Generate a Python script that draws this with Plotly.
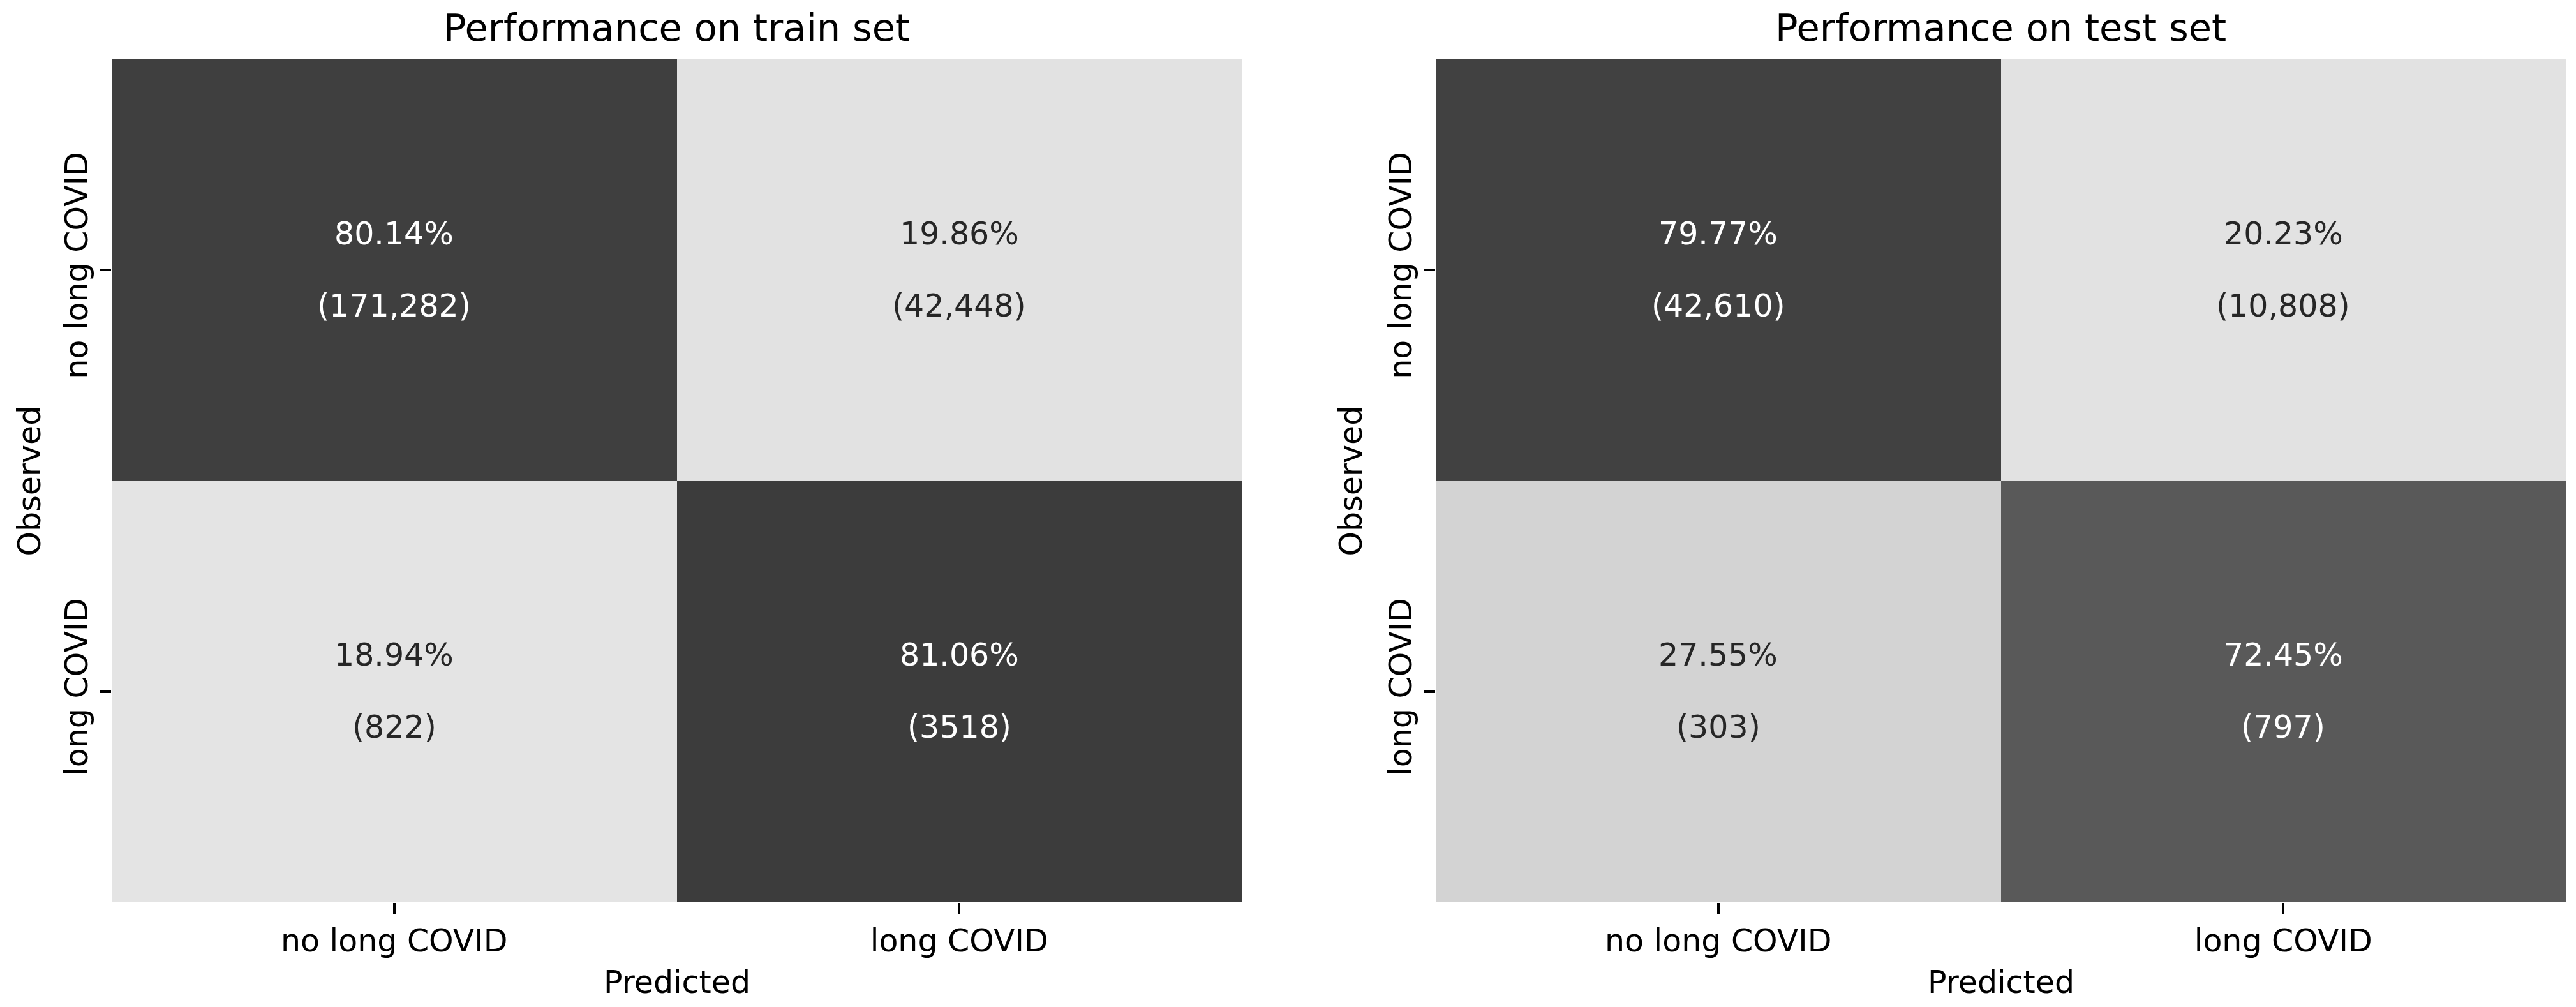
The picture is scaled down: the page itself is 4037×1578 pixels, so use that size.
import plotly.graph_objects as go

# ---- data ----
pred_labels = ["no long COVID", "long COVID"]
obs_labels = ["no long COVID", "long COVID"]

train_pct = [[80.14, 19.86],
             [18.94, 81.06]]
train_cnt = [["171,282", "42,448"],
             ["822", "3518"]]

test_pct = [[79.77, 20.23],
            [27.55, 72.45]]
test_cnt = [["42,610", "10,808"],
            ["303", "797"]]

titles = ["Performance on train set", "Performance on test set"]

# ColorBrewer Greys (matplotlib "Greys"), mapped on 0..100 %
greys = [[0.0, "#ffffff"], [0.125, "#f0f0f0"], [0.25, "#d9d9d9"],
         [0.375, "#bdbdbd"], [0.5, "#969696"], [0.625, "#737373"],
         [0.75, "#525252"], [0.875, "#252525"], [1.0, "#000000"]]

W, H = 4037, 1578
OFF = 8  # page body margin in the browser
FONT = "DejaVu Sans"
TICK_SIZE = 49
TITLE_SIZE = 59


def px_x(s):
    return (s - OFF) / W


def px_y(s):
    return 1 - (s - OFF) / H


# screen-pixel layout of the two panels
panels = [(175, 1946), (2250, 4021)]
top_px, bot_px = 93, 1414

fig = go.Figure()
annotations = []

for i, (pct, cnt, title) in enumerate([(train_pct, train_cnt, titles[0]),
                                        (test_pct, test_cnt, titles[1])]):
    xa = "x" if i == 0 else "x2"
    ya = "y" if i == 0 else "y2"
    fig.add_trace(go.Heatmap(
        z=pct, x=pred_labels, y=obs_labels,
        colorscale=greys, zmin=0, zmax=100, showscale=False,
        xaxis=xa, yaxis=ya, hoverinfo="skip",
    ))
    for r, ob in enumerate(obs_labels):
        for c, pr in enumerate(pred_labels):
            col = "#ffffff" if pct[r][c] > 50 else "#262626"
            annotations.append(dict(
                x=pr, y=ob, xref=xa, yref=ya, text=f"{pct[r][c]:.2f}%",
                showarrow=False, yshift=57, yanchor="middle",
                font=dict(family=FONT, size=TICK_SIZE, color=col)))
            annotations.append(dict(
                x=pr, y=ob, xref=xa, yref=ya, text=f"({cnt[r][c]})",
                showarrow=False, yshift=-56, yanchor="middle",
                font=dict(family=FONT, size=TICK_SIZE, color=col)))
    x0, x1 = panels[i]
    xc = px_x((x0 + x1) / 2)
    annotations.append(dict(
        x=xc, y=px_y(44), xref="paper", yref="paper", text=title,
        showarrow=False, xanchor="center", yanchor="middle",
        font=dict(family=FONT, size=TITLE_SIZE, color="#000000")))
    annotations.append(dict(
        x=xc, y=px_y(1539), xref="paper", yref="paper", text="Predicted",
        showarrow=False, xanchor="center", yanchor="middle",
        font=dict(family=FONT, size=TICK_SIZE, color="#000000")))
    obs_x = 46 if i == 0 else 2117
    annotations.append(dict(
        x=px_x(obs_x), y=px_y((top_px + bot_px) / 2), xref="paper", yref="paper",
        text="Observed", textangle=-90,
        showarrow=False, xanchor="center", yanchor="middle",
        font=dict(family=FONT, size=TICK_SIZE, color="#000000")))

axis_common = dict(
    showgrid=False, zeroline=False, showline=False,
    ticks="outside", ticklen=17, tickwidth=4, tickcolor="#000000",
    tickfont=dict(family=FONT, size=TICK_SIZE, color="#000000"),
)

ydom = [px_y(bot_px), px_y(top_px)]
layout = dict(
    width=W, height=H,
    margin=dict(l=0, r=0, t=0, b=0),
    paper_bgcolor="white", plot_bgcolor="white",
    showlegend=False,
    annotations=annotations,
    xaxis=dict(domain=[px_x(panels[0][0]), px_x(panels[0][1])], anchor="y", **axis_common),
    yaxis=dict(domain=ydom, anchor="x", autorange="reversed", tickangle=-90, **axis_common),
    xaxis2=dict(domain=[px_x(panels[1][0]), px_x(panels[1][1])], anchor="y2", **axis_common),
    yaxis2=dict(domain=ydom, anchor="x2", autorange="reversed", tickangle=-90, **axis_common),
)
fig.update_layout(**layout)

fig.write_html("out.html")
